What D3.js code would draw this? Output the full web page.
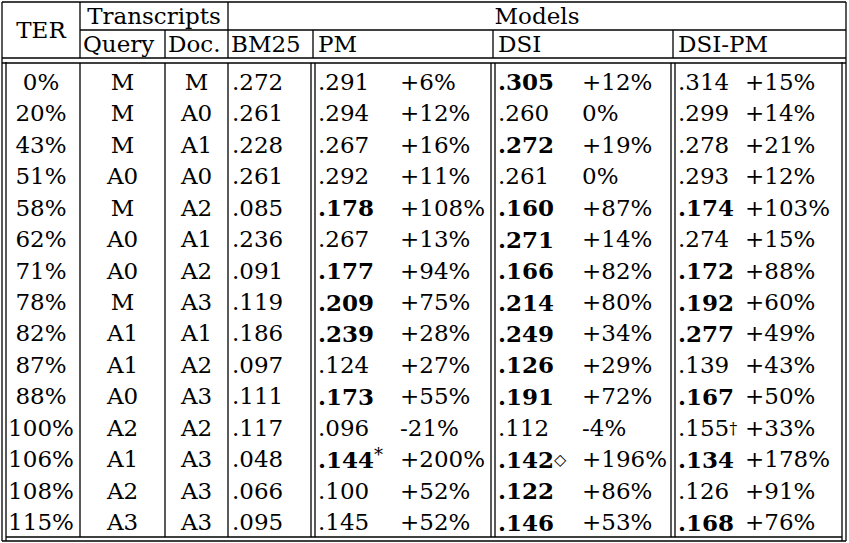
<!DOCTYPE html><html><head><meta charset="utf-8"><script src="https://cdn.jsdelivr.net/npm/d3@7"></script>
<style>body{margin:0;background:#fff}</style></head><body><svg id="c" width="849" height="543"></svg><script>
const ter=["0%","20%","43%","51%","58%","62%","71%","78%","82%","87%","88%","100%","106%","108%","115%"];
const query=["M","M","M","A0","M","A0","A0","M","A1","A1","A0","A2","A1","A2","A3"];
const doc=["M","A0","A1","A0","A2","A1","A2","A3","A1","A2","A3","A2","A3","A3","A3"];
const bm25=[".272",".261",".228",".261",".085",".236",".091",".119",".186",".097",".111",".117",".048",".066",".095"];
const pm=[".291",".294",".267",".292",".178",".267",".177",".209",".239",".124",".173",".096",".144",".100",".145"];
const pmMark=["","","","","","","","","","","","","*","",""];
const pmPct=["+6%","+12%","+16%","+11%","+108%","+13%","+94%","+75%","+28%","+27%","+55%","-21%","+200%","+52%","+52%"];
const pmBold=[0,0,0,0,1,0,1,1,1,0,1,0,1,0,0];
const dsi=[".305",".260",".272",".261",".160",".271",".166",".214",".249",".126",".191",".112",".142",".122",".146"];
const dsiMark=["","","","","","","","","","","","","◇","",""];
const dsiPct=["+12%","0%","+19%","0%","+87%","+14%","+82%","+80%","+34%","+29%","+72%","-4%","+196%","+86%","+53%"];
const dsiBold=[1,0,1,0,1,1,1,1,1,1,1,0,1,1,1];
const dp=[".314",".299",".278",".293",".174",".274",".172",".192",".277",".139",".167",".155",".134",".126",".168"];
const dpMark=["","","","","","","","","","","","†","","",""];
const dpPct=["+15%","+14%","+21%","+12%","+103%","+15%","+88%","+60%","+49%","+43%","+50%","+33%","+178%","+91%","+76%"];
const dpBold=[0,0,0,0,1,0,1,1,1,0,1,0,1,0,1];

const svg=d3.select("#c");
const F="'DejaVu Serif', serif", FS=23;
const y=d3.scaleBand().domain(d3.range(ter.length)).range([66,538]);
const X={l:2,ter:80,q:165,d:228,bm:313,pm:493,dsi:673,r:846};
function line(x1,y1,x2,y2,w=1.3){svg.append("line").attr("x1",x1).attr("y1",y1).attr("x2",x2).attr("y2",y2).attr("stroke","#000").attr("stroke-width",w);}
function txt(x,yy,s,anchor="start",bold=false){const t=svg.append("text").attr("x",x).attr("y",yy).attr("font-family",F).attr("font-size",FS).attr("text-anchor",anchor).attr("dominant-baseline","central").attr("fill","#000").text(s);if(bold)t.attr("font-weight","bold");return t;}
line(X.l,2,X.r,2);
line(X.l,2,X.l,541);line(X.l+4,62,X.l+4,541);
line(X.r,2,X.r,541);line(X.r-4,62,X.r-4,541);
line(X.l,541,X.r,541);line(X.l+4,537,X.r-4,537);
line(X.l,58,X.r,58);line(X.l,63,X.r,63);
line(X.ter,30,X.r,30);
line(X.ter,2,X.ter,58);line(X.d,2,X.d,58);
[X.q,X.bm,X.pm,X.dsi].forEach(x=>line(x,30,x,58));
[X.ter,X.q,X.d].forEach(x=>line(x,63,x,537));
[X.bm,X.pm,X.dsi].forEach(x=>{line(x-2,63,x-2,537);line(x+2,63,x+2,537);});
txt((X.l+X.ter)/2,30,"TER","middle");
txt((X.ter+X.d)/2,16,"Transcripts","middle");
txt((X.d+X.r)/2,16,"Models","middle");
txt(X.ter+3,44,"Query");txt(X.q+3,44,"Doc.");txt(X.d+3,44,"BM25");
txt(X.bm+5,44,"PM");txt(X.pm+5,44,"DSI");txt(X.dsi+5,44,"DSI-PM");
ter.forEach((t,i)=>{
 const cy=y(i)+y.bandwidth()/2;
 txt((X.l+X.ter)/2,cy,t,"middle");
 txt((X.ter+X.q)/2,cy,query[i],"middle");
 txt((X.q+X.d)/2,cy,doc[i],"middle");
 txt(X.d+4,cy,bm25[i]);
 [[pm,pmMark,pmPct,pmBold,X.bm+5,400],[dsi,dsiMark,dsiPct,dsiBold,X.pm+5,582],[dp,dpMark,dpPct,dpBold,X.dsi+5,745]].forEach(([v,m,p,b,x0,xp])=>{
  const t=txt(x0,cy,v[i],"start",!!b[i]);
  if(m[i])t.append("tspan").attr("font-weight","normal").attr("font-size",m[i]==="*"?18:16).attr("dy",m[i]==="*"?-5:0).text(m[i]);
  txt(xp,cy,p[i]);
 });
});
</script></body></html>
